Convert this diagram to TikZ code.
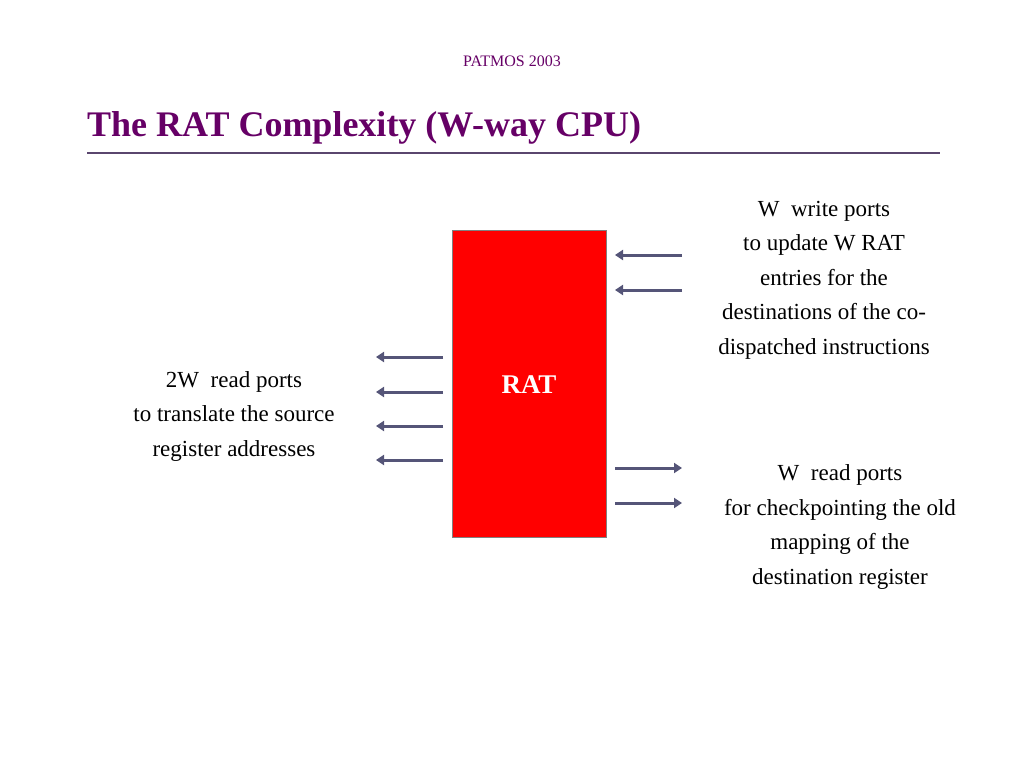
\documentclass[tikz,border=0pt]{standalone}
\usepackage{fontspec}
\setmainfont{Liberation Serif}
\usetikzlibrary{arrows.meta}
\definecolor{ttl}{RGB}{102,0,102}
\definecolor{arr}{RGB}{85,85,120}
\definecolor{rule}{RGB}{90,70,110}
\begin{document}
\begin{tikzpicture}[x=1pt,y=-1pt,
  port/.style={draw=arr,line width=3pt,-{Triangle[length=8pt,width=10pt]}},
  txt/.style={align=center,font=\fontsize{23}{34.5}\selectfont,inner sep=0pt}]
\useasboundingbox (0,0) rectangle (1024,768);
\node[font=\fontsize{16}{19}\selectfont,text=ttl] (hdr) at (512,61) {PATMOS 2003};
\node[anchor=west,font=\fontsize{36}{40}\bfseries\selectfont,text=ttl,inner sep=0pt] (title) at (87,128) {The RAT Complexity (W-way CPU)};
\coordinate (l1) at (87,153); \coordinate (l2) at (940,153);
\draw[rule,line width=2.5pt] (l1) -- (l2);
\node[draw=gray,fill=red,minimum width=154pt,minimum height=307pt,inner sep=0pt] (rat) at (529,383.5) {};
\node[text=white,font=\fontsize{27}{30}\bfseries\selectfont] (ratl) at (529,385) {RAT};
% write ports
\coordinate (w1s) at (682,255); \coordinate (w1e) at (615,255);
\coordinate (w2s) at (682,290); \coordinate (w2e) at (615,290);
\draw[port] (w1s) -- (w1e); \draw[port] (w2s) -- (w2e);
% read ports left
\foreach \y [count=\i] in {357,392,426,460}{
  \coordinate (r\i s) at (443,\y); \coordinate (r\i e) at (376,\y);
  \draw[port] (r\i s) -- (r\i e);}
% checkpoint ports
\coordinate (c1s) at (615,468); \coordinate (c1e) at (682,468);
\coordinate (c2s) at (615,503); \coordinate (c2e) at (682,503);
\draw[port] (c1s) -- (c1e); \draw[port] (c2s) -- (c2e);
\node[txt] (wt) at (824,280) {W\ \ write ports\\to update W RAT\\entries for the\\destinations of the co-\\dispatched instructions};
\node[txt] (rt) at (234,416) {2W\ \ read ports\\to translate the source\\register addresses};
\node[txt] (ct) at (840,527) {W\ \ read ports\\for checkpointing the old\\mapping of the\\destination register};
\end{tikzpicture}
\end{document}
